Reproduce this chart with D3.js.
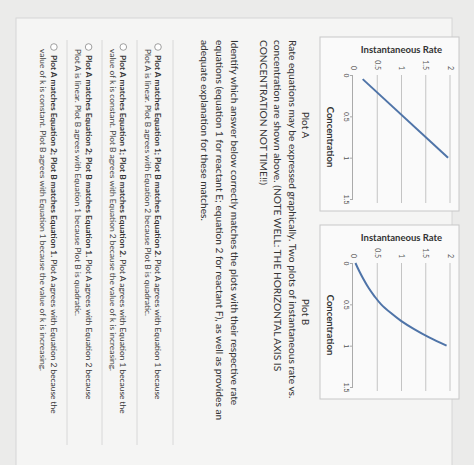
<!DOCTYPE html>
<html>
<head>
<meta charset="utf-8">
<script src="https://cdn.jsdelivr.net/npm/d3@7"></script>
<style>
  body { margin: 0; background: #ececec; }
  svg { display: block; font-family: Lato, "Open Sans", sans-serif; }
</style>
</head>
<body>
<div class="container"></div>
<script>
// plot data
const plotAConc = [0.05, 1.0]
const plotARate = [0.2, 1.96]
const plotBConc = [0, 0.1, 0.2, 0.3, 0.4, 0.5, 0.6, 0.7, 0.8, 0.9, 1.0]
const plotBRate = [0.05, 0.13, 0.22, 0.32, 0.44, 0.58, 0.77, 0.99, 1.26, 1.57, 1.93]
const concTicks = [0, 0.5, 1, 1.5]
const rateTicks = [0, 0.5, 1, 1.5, 2]
const plotLabels = ['Plot A', 'Plot B']

const paragraph = [
  'Rate equations may be expressed graphically.  Two plots of instantaneous rate vs.',
  'concentration are shown above.  (NOTE WELL:  THE HORIZONTAL AXIS IS',
  'CONCENTRATION NOT TIME!!)',
  '',
  'Identify which answer below correctly matches the plots with their respective rate',
  'equations (equation 1 for reactant E; equation 2 for reactant F), as well as provides an',
  'adequate explanation for these matches.'
]
const optionBold = [
  'Plot A matches Equation 1; Plot B matches Equation 2.',
  'Plot A matches Equation 1; Plot B matches Equation 2.',
  'Plot A matches Equation 2; Plot B matches Equation 1.',
  'Plot A matches Equation 2; Plot B matches Equation 1.'
]
const optionRest = [
  [' Plot A agrees with Equation 1 because', 'Plot A is linear. Plot B agrees with Equation 2 because Plot B is quadratic.'],
  [' Plot A agrees with Equation 1 because the', 'value of k is constant. Plot B agrees with Equation 2 because the value of k is increasing.'],
  [' Plot A agrees with Equation 2 because', 'Plot A is linear. Plot B agrees with Equation 1 because Plot B is quadratic.'],
  [' Plot A agrees with Equation 2 because the', 'value of k is constant. Plot B agrees with Equation 1 because the value of k is increasing.']
]

const svg = d3.select('.container').append('svg')
  .attr('width', 474)
  .attr('height', 465)

// the photo is turned a quarter clockwise
const page = svg.append('g').attr('transform', 'translate(474,0) rotate(90)')

page.append('rect').attr('x', -10).attr('y', -10).attr('width', 490).attr('height', 500).attr('fill', '#ebebea')
page.append('rect')
  .attr('x', 18).attr('y', 22).attr('width', 450).attr('height', 436)
  .attr('fill', '#f5f5f4').attr('stroke', '#d6d6d6')

const rateScale = d3.scaleLinear().domain([0, 2]).range([121, 24])

function drawPlot(g, conc, rate, u0) {
  const concScale = d3.scaleLinear().domain([0, 1.5]).range([u0, u0 + 124])
  g.append('rect')
    .attr('x', u0 - 38).attr('y', 15).attr('width', 174).attr('height', 139)
    .attr('fill', '#fafafa').attr('stroke', '#c8c8c8')

  g.selectAll('.grid').data(rateTicks.slice(1)).enter().append('line')
    .attr('x1', u0).attr('x2', concScale(1.5) + 4)
    .attr('y1', d => rateScale(d)).attr('y2', d => rateScale(d))
    .attr('stroke', '#c4c4c4')

  const xAxis = g.append('g').attr('transform', `translate(0,${rateScale(0)})`)
    .call(d3.axisBottom(concScale).tickValues(concTicks).tickSize(3).tickFormat(d3.format('')))
  xAxis.select('.domain').attr('stroke', '#aaa')
  xAxis.selectAll('line').attr('stroke', '#aaa')
  xAxis.selectAll('text').attr('font-size', 7).attr('fill', '#555').attr('dy', '0.5em')

  g.selectAll('.ylab').data(rateTicks).enter().append('text')
    .attr('x', u0 - 5).attr('y', d => rateScale(d) + 2.5)
    .attr('text-anchor', 'end').attr('font-size', 7).attr('fill', '#555')
    .text(d => d)

  g.append('text')
    .attr('transform', `translate(${u0 - 22},${rateScale(1)}) rotate(-90)`)
    .attr('text-anchor', 'middle').attr('font-size', 9.5).attr('font-weight', 'bold').attr('fill', '#333')
    .text('Instantaneous Rate')
  g.append('text')
    .attr('x', concScale(0.75)).attr('y', 147)
    .attr('text-anchor', 'middle').attr('font-size', 9.5).attr('font-weight', 'bold').attr('fill', '#333')
    .text('Concentration')

  const line = d3.line().x((d, i) => concScale(conc[i])).y(d => rateScale(d)).curve(d3.curveMonotoneX)
  g.append('path').datum(rate)
    .attr('d', line).attr('fill', 'none')
    .attr('stroke', '#4f74a8').attr('stroke-width', 2)
}

drawPlot(page.append('g'), plotAConc, plotARate, 75)
drawPlot(page.append('g'), plotBConc, plotBRate, 263)

page.selectAll('.plotlab').data(plotLabels).enter().append('text')
  .attr('x', (d, i) => i === 0 ? 125 : 312).attr('y', 172)
  .attr('text-anchor', 'middle').attr('font-size', 10).attr('fill', '#333')
  .text(d => d)

page.selectAll('.para').data(paragraph).enter().append('text')
  .attr('x', 40).attr('y', (d, i) => 185 + i * 14.6)
  .attr('font-size', 10.2).attr('fill', '#333')
  .text(d => d)

page.selectAll('.sep').data([301, 337, 372, 407]).enter().append('line')
  .attr('x1', 40).attr('x2', 445).attr('y1', d => d).attr('y2', d => d)
  .attr('stroke', '#d8d8d8')

optionBold.forEach((b, i) => {
  const v = 316 + i * 34.7
  page.append('circle').attr('cx', 47).attr('cy', v).attr('r', 3.3)
    .attr('fill', '#fff').attr('stroke', '#888').attr('stroke-width', 0.8)
  const t = page.append('text').attr('x', 55).attr('y', v + 3).attr('font-size', 8.4).attr('fill', '#333')
  t.append('tspan').attr('font-weight', 'bold').text(b)
  t.append('tspan').text(optionRest[i][0])
  page.append('text').attr('x', 49).attr('y', v + 13.5).attr('font-size', 8.4).attr('fill', '#444')
    .text(optionRest[i][1])
})
</script>
</body>
</html>
